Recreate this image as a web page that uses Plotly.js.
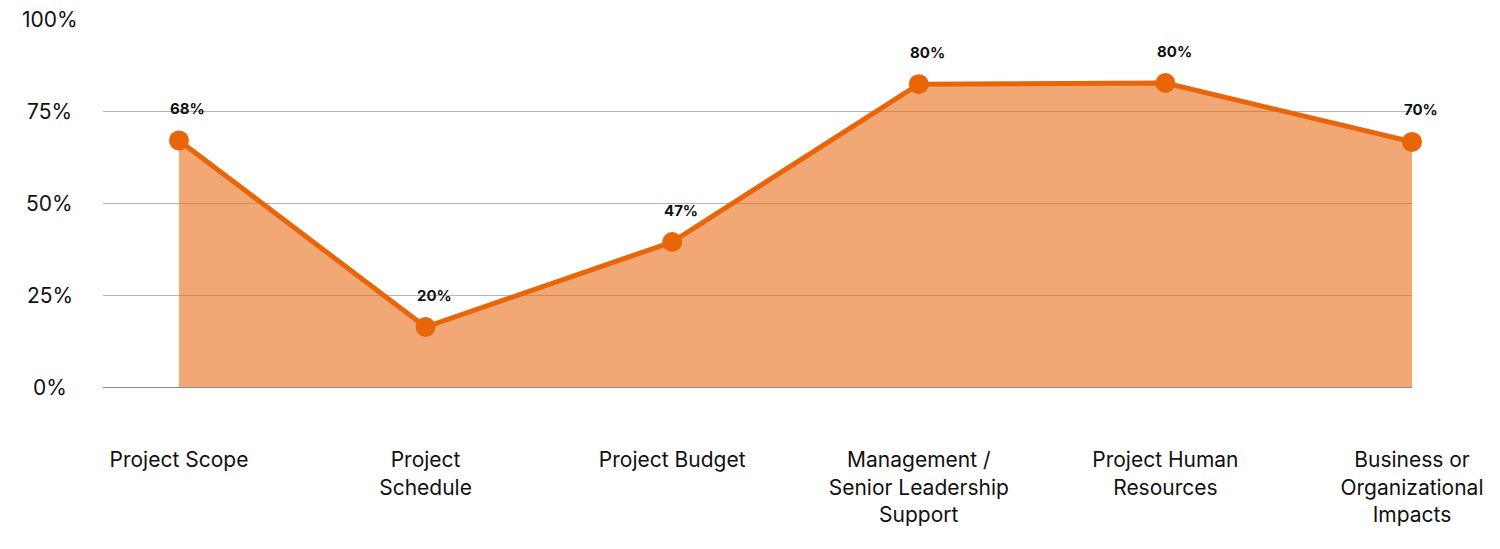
<!DOCTYPE html>
<html>
<head>
<meta charset="utf-8">
<script src="https://cdn.plot.ly/plotly-3.0.1.min.js"></script>
<style>html,body{margin:0;padding:0;background:#fff;}#chart{width:1500px;height:549px;}</style>
</head>
<body>
<div id="chart"></div>
<script>
const categories = [
  "Project Scope",
  "Project<br>Schedule",
  "Project Budget",
  "Management /<br>Senior Leadership<br>Support",
  "Project Human<br>Resources",
  "Business or<br>Organizational<br>Impacts"
];
const values = [67, 16.3, 39.4, 82.3, 82.6, 66.6];
const valueLabels = ["68%", "20%", "47%", "80%", "80%", "70%"];
const yTicks = [0, 25, 50, 75, 100];
const yTickLabels = ["0%", "25%", "50%", "75%", "100%"];

const FONT = "Inter, 'DejaVu Sans', sans-serif";
const ORANGE = "#E8650A";

const trace = {
  x: categories,
  y: values,
  type: "scatter",
  mode: "lines+markers",
  fill: "tozeroy",
  fillcolor: "rgba(232,101,10,0.565)",
  line: {color: ORANGE, width: 5},
  marker: {color: ORANGE, size: 20},
  cliponaxis: false,
  hoverinfo: "skip"
};

const annotations = [];
categories.forEach((c, i) => {
  annotations.push({
    x: c, y: values[i], xref: "x", yref: "y",
    text: "<b>" + valueLabels[i] + "</b>",
    showarrow: false, xanchor: "center", yanchor: "middle",
    xshift: 9, yshift: 32,
    font: {family: FONT, size: 15, color: "#111"}
  });
});
yTicks.forEach((v, i) => {
  annotations.push({
    x: -0.0405, y: v, xref: "paper", yref: "y",
    text: yTickLabels[i], showarrow: false,
    xanchor: "center", yanchor: "middle",
    font: {family: FONT, size: 21, color: "#111"}
  });
});

const layout = {
  width: 1500, height: 549,
  margin: {l: 103, r: 88, t: 19, b: 162},
  paper_bgcolor: "#fff", plot_bgcolor: "#fff",
  showlegend: false,
  font: {family: FONT, color: "#111"},
  xaxis: {
    type: "category",
    range: [-0.308, 5],
    showgrid: false, zeroline: false, showline: false,
    ticks: "outside", ticklen: 54, tickcolor: "rgba(0,0,0,0)",
    tickfont: {family: FONT, size: 21, color: "#111"},
    fixedrange: true
  },
  yaxis: {
    range: [0, 100],
    tickvals: yTicks,
    showticklabels: false,
    showgrid: true, gridcolor: "#b5b5b5", gridwidth: 1,
    zeroline: true, zerolinecolor: "#8a8a8a", zerolinewidth: 1,
    showline: false,
    fixedrange: true
  },
  annotations: annotations
};

Plotly.newPlot("chart", [trace], layout, {displayModeBar: false, staticPlot: true});
</script>
</body>
</html>
